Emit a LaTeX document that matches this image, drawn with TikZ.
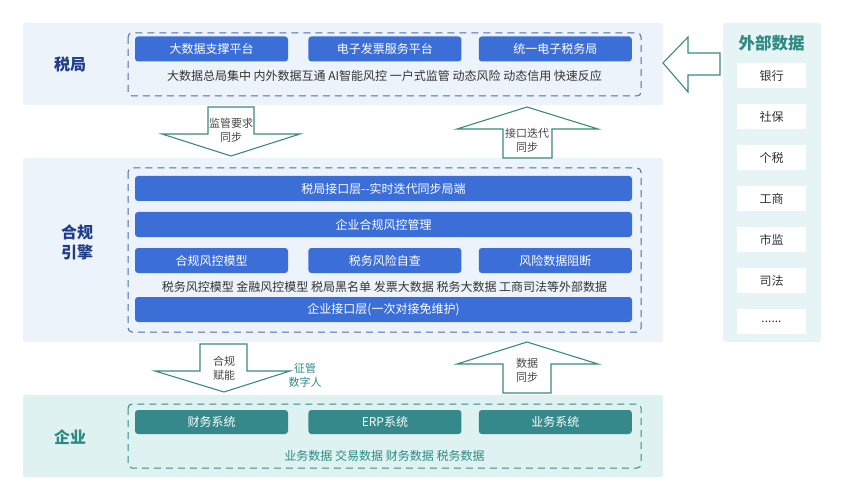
\documentclass[tikz,border=0pt]{standalone}
\usepackage{fontspec}
\setmainfont{Noto Sans CJK SC}
\usetikzlibrary{positioning}
\definecolor{panelblue}{HTML}{EDF3FA}
\definecolor{boxblue}{HTML}{3B6ED6}
\definecolor{dashblue}{HTML}{4D6BA8}
\definecolor{navy}{HTML}{1F3D8A}
\definecolor{tealbox}{HTML}{35898A}
\definecolor{tealpanel}{HTML}{DFF2F2}
\definecolor{tealtext}{HTML}{2F8A83}
\definecolor{extpanel}{HTML}{E6F4F5}
\definecolor{arrowline}{HTML}{3B8A82}
\definecolor{darktext}{HTML}{333333}
\tikzset{
  panel/.style={fill=panelblue,rounded corners=2pt},
  dashbox/.style={draw=dashblue,dash pattern=on 7pt off 5pt,line width=1pt,rounded corners=4pt},
  bluebox/.style={fill=boxblue,rounded corners=3pt,text=white,inner sep=0pt,
    minimum width=153pt,minimum height=25pt,font=\fontsize{12}{14}\selectfont},
  widebar/.style={bluebox,minimum width=497pt},
  tealbar/.style={bluebox,fill=tealbox,minimum height=24pt},
  descline/.style={text=darktext,font=\fontsize{12}{14}\selectfont},
  layerlabel/.style={text=navy,font=\fontsize{16}{20}\selectfont\bfseries,align=center},
  blockarrow/.style={draw=arrowline,fill=white,line width=1.1pt,line join=miter},
  arrowlabel/.style={text=darktext!90,font=\fontsize{11}{14}\selectfont,align=center},
  extbox/.style={fill=white,inner sep=0pt,minimum width=69pt,minimum height=25pt,
    text=darktext,font=\fontsize{12}{14}\selectfont}
}
\begin{document}
\begin{tikzpicture}[x=1pt,y=-1pt]
\useasboundingbox[fill=white] (0,0) rectangle (844,500);
% panels
\fill[panel] (23,23) rectangle (663,105);
\fill[panel] (23,158) rectangle (663,342);
\fill[panel,fill=tealpanel] (23,395) rectangle (663,477);
\fill[panel,fill=extpanel] (723,23) rectangle (821,342);
\draw[dashbox] (128,33) rectangle (641,96);
\draw[dashbox] (128,168) rectangle (641,332);
\draw[dashbox,draw=tealbox] (128,404) rectangle (641,468);
% tax bureau
\node[layerlabel] (taxlabel) at (70,64) {税局};
\node[bluebox] (bigdata) at (211.5,49) {大数据支撑平台};
\node[bluebox,right=20pt of bigdata] (einvoice) {电子发票服务平台};
\node[bluebox,right=17pt of einvoice] (etax) {统一电子税务局};
\node[descline] (taxdesc) at (384.5,76) {大数据总局集中 内外数据互通 AI智能风控 一户式监管 动态风险 动态信用 快速反应};
% compliance engine
\node[layerlabel] (enginelabel) at (77,242) {合规\\引擎};
\node[widebar] (taxapi) at (383.5,188.5) {税局接口层-{}-实时迭代同步局端};
\node[widebar] (riskmgmt) at (383.5,224.5) {企业合规风控管理};
\node[bluebox] (model) at (211.5,260.5) {合规风控模型};
\node[bluebox,right=20pt of model] (selfcheck) {税务风险自查};
\node[bluebox,right=17pt of selfcheck] (block) {风险数据阻断};
\node[descline] (enginedesc) at (384.5,287) {税务风控模型 金融风控模型 税局黑名单 发票大数据 税务大数据 工商司法等外部数据};
\node[widebar] (entapi) at (383.5,309.5) {企业接口层(一次对接免维护)};
% enterprise
\node[layerlabel,text=tealtext] (entlabel) at (70,437) {企业};
\node[tealbar] (finance) at (211.5,422) {财务系统};
\node[tealbar,right=20pt of finance] (erp) {ERP系统};
\node[tealbar,right=17pt of erp] (business) {业务系统};
\node[descline,text=tealtext] (entdesc) at (384.5,456) {业务数据 交易数据 财务数据 税务数据};
% external data
\node[layerlabel,text=tealtext,font=\fontsize{16.5}{20}\selectfont\bfseries] (extlabel) at (771.5,43) {外部数据};
\node[extbox] (bank) at (771.5,75.5) {银行};
\node[extbox,below=15.6pt of bank] (social) {社保};
\node[extbox,below=15.6pt of social] (pit) {个税};
\node[extbox,below=15.6pt of pit] (commerce) {工商};
\node[extbox,below=15.6pt of commerce] (market) {市监};
\node[extbox,below=15.6pt of market] (judicial) {司法};
\node[extbox,below=15.6pt of judicial] (more) {......};
% block arrows
\draw[blockarrow] (663,63) -- (688,37) -- (688,53) -- (720,53) -- (720,75) -- (688,75) -- (688,92) -- cycle;
\draw[blockarrow] (208,107) -- (254,107) -- (254,134) -- (300,134) -- (231,156) -- (162,134) -- (208,134) -- cycle;
\node[arrowlabel] (reqsync) at (231,130) {监管要求\\同步};
\draw[blockarrow] (527,107) -- (598,129) -- (552,129) -- (552,158) -- (503,158) -- (503,129) -- (457,129) -- cycle;
\node[arrowlabel] (apisync) at (527,140) {接口迭代\\同步};
\draw[blockarrow] (200,344) -- (247,344) -- (247,371) -- (290,371) -- (224,392) -- (155,371) -- (200,371) -- cycle;
\node[arrowlabel] (empower) at (224,368) {合规\\赋能};
\node[arrowlabel,text=tealtext] (digital) at (305,375) {征管\\数字人};
\draw[blockarrow] (527,342) -- (598,364) -- (551,364) -- (551,393) -- (503,393) -- (503,364) -- (457,364) -- cycle;
\node[arrowlabel] (datasync) at (527,370) {数据\\同步};
\end{tikzpicture}
\end{document}
